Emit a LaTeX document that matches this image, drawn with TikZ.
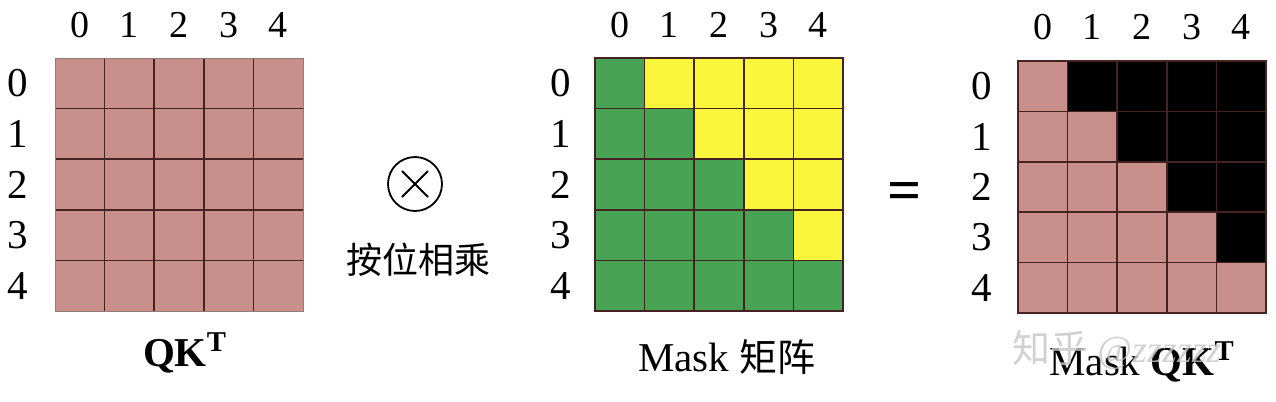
\documentclass[tikz,border=0pt]{standalone}
\usepackage{fontspec}
\setmainfont{Liberation Serif}
\newfontfamily\cjk{Noto Sans CJK SC}
\definecolor{score}{RGB}{201,143,139}
\definecolor{keep}{RGB}{72,163,84}
\definecolor{masked}{RGB}{250,246,60}
\definecolor{cellline}{RGB}{70,35,35}
\tikzstyle{idx}=[font=\fontsize{19}{19}\selectfont, inner sep=0pt]
\tikzstyle{rowidx}=[font=\fontsize{20.5}{20.5}\selectfont, inner sep=0pt]
\tikzstyle{caption}=[font=\fontsize{20.5}{20.5}\selectfont, inner sep=0pt]
\tikzstyle{cell}=[draw=cellline, line width=0.8pt]
\newcommand{\cellx}{49.6}
\newcommand{\celly}{50.6}

\begin{document}
\begin{tikzpicture}[x=0.5pt,y=-0.5pt]
  \useasboundingbox (0,0) rectangle (1276,402);

  %% QK^T
  \begin{scope}[shift={(55,58)}]
    \fill[score] (0,0) rectangle (248,253);
    \foreach \i in {1,...,4} {
      \draw[cell] ({\cellx*\i},0) -- ({\cellx*\i},253);
      \draw[cell] (0,{\celly*\i}) -- (248,{\celly*\i});
    }
    \draw[cell, line width=0.5pt, draw=cellline!60] (0,0) rectangle (248,253);
    \foreach \i in {0,...,4} {
      \node[idx] (q-col-\i) at ({24.8+\cellx*\i},-33) {\i};
      \node[rowidx] (q-row-\i) at (-37,{25.3+\celly*\i}) {\i};
    }
  \end{scope}
  \node[caption] (q-label) at (185,353) {\textbf{QK}\textsuperscript{\textbf{T}}};

  %% operator
  \node[circle, draw, minimum size=27pt, line width=0.9pt, inner sep=0pt] (op) at (415,184) {};
  \draw[line width=0.9pt] (op.center) +(-13,-13) -- +(13,13);
  \draw[line width=0.9pt] (op.center) +(-13,13) -- +(13,-13);
  \node[font=\fontsize{18}{18}\selectfont\cjk, inner sep=0pt] (op-label) at (418,260) {按位相乘};

  %% Mask
  \begin{scope}[shift={(595,58)}]
    \fill[keep] (0,0) rectangle (248,253);
    \foreach \r in {0,...,3}
      \fill[masked] ({\cellx*(\r+1)},{\celly*\r}) rectangle (248,{\celly*(\r+1)});
    \foreach \i in {1,...,4} {
      \draw[cell] ({\cellx*\i},0) -- ({\cellx*\i},253);
      \draw[cell] (0,{\celly*\i}) -- (248,{\celly*\i});
    }
    \draw[cell] (0,0) rectangle (248,253);
    \foreach \i in {0,...,4} {
      \node[idx] (m-col-\i) at ({24.8+\cellx*\i},-33) {\i};
      \node[rowidx] (m-row-\i) at (-34,{25.3+\celly*\i}) {\i};
    }
  \end{scope}
  \node[caption] (m-label) at (727,357) {Mask {\cjk\fontsize{19}{19}\selectfont 矩阵}};

  \node[font=\fontsize{30}{30}\selectfont\bfseries, inner sep=0pt] (eq) at (905,196) {=};

  %% Mask QK^T
  \begin{scope}[shift={(1018,61)}]
    \fill[score] (0,0) rectangle (248,252);
    \foreach \r in {0,...,3}
      \fill[black] ({\cellx*(\r+1)},{50.4*\r}) rectangle (248,{50.4*(\r+1)});
    \foreach \i in {1,...,4} {
      \draw[cell] ({\cellx*\i},0) -- ({\cellx*\i},252);
      \draw[cell] (0,{50.4*\i}) -- (248,{50.4*\i});
    }
    \draw[cell] (0,0) rectangle (248,252);
    \foreach \i in {0,...,4} {
      \node[idx] (r-col-\i) at ({24.8+\cellx*\i},-34) {\i};
      \node[rowidx] (r-row-\i) at (-36,{25.2+50.4*\i}) {\i};
    }
  \end{scope}
  \node[caption] (r-label) at (1142,362) {Mask \textbf{QK}\textsuperscript{\textbf{T}}};
  \node[font=\fontsize{19}{19}\selectfont, text=gray!45, opacity=0.8, inner sep=0pt] (mark) at (1117,350) {{\cjk 知乎} \textit{@zzzzzz}};
\end{tikzpicture}
\end{document}
